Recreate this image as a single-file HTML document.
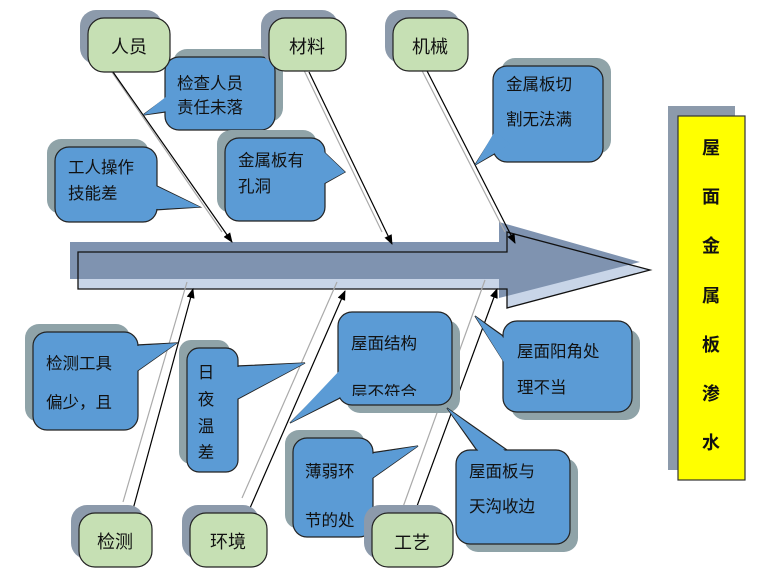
<!DOCTYPE html>
<html><head><meta charset="utf-8"><style>
html,body{margin:0;padding:0;background:#fff;}
svg{display:block;}
text{font-family:"Liberation Sans","Noto Sans CJK SC",sans-serif;fill:#111;}
</style></head><body>
<svg width="760" height="570" viewBox="0 0 760 570" xmlns="http://www.w3.org/2000/svg">
<defs>
<marker id="ah" markerWidth="10" markerHeight="10" refX="9" refY="5" orient="auto" markerUnits="userSpaceOnUse">
<path d="M0,1 L10,5 L0,9 z" fill="#000"/></marker>
<clipPath id="c1"><rect x="338" y="312" width="114" height="84" rx="14"/></clipPath>
</defs>

<polygon points="78,252 507,252 507,232 650,270 507,308 507,289 78,289" fill="#c8d5e8"/>
<polygon points="70,242 499,242 499,222 640,262 499,298 499,279 70,279" fill="#7f93b0"/>
<polygon points="78,252 507,252 507,232 650,270 507,308 507,289 78,289" fill="none" stroke="#111" stroke-width="1.3"/>

<g stroke="#aaa" stroke-width="1.2">
<line x1="105" y1="62" x2="222" y2="232"/>
<line x1="300" y1="62" x2="382" y2="232"/>
<line x1="415" y1="57" x2="505" y2="232"/>
<line x1="123" y1="502" x2="187" y2="282"/>
<line x1="242" y1="498" x2="337" y2="282"/>
<line x1="403" y1="507" x2="485" y2="280"/>
</g>
<g stroke="#000" stroke-width="1.2" marker-end="url(#ah)">
<line x1="113" y1="72" x2="232" y2="242"/>
<line x1="309" y1="72" x2="392" y2="244"/>
<line x1="424" y1="65" x2="515" y2="243"/>
<line x1="132" y1="513" x2="193" y2="289"/>
<line x1="250" y1="508" x2="345" y2="291"/>
<line x1="413" y1="517" x2="497" y2="289"/>
</g>

<g stroke="#222" stroke-width="1.2">
<rect x="173" y="49" width="110" height="73" rx="14" fill="#8fa3a8" stroke="none"/>
<polygon points="170,95 143,115 180,110" fill="#5b9bd5"/>
<rect x="165" y="57" width="110" height="73" rx="14" fill="#5b9bd5"/>
<polygon points="167,96 143,115 180,109" fill="#5b9bd5" stroke="none"/>
<rect x="47" y="139" width="102" height="75" rx="14" fill="#8fa3a8" stroke="none"/>
<polygon points="155,185 200,207 155,210" fill="#5b9bd5"/>
<rect x="55" y="147" width="102" height="75" rx="14" fill="#5b9bd5"/>
<polygon points="156,186 200,207 156,209" fill="#5b9bd5" stroke="none"/>
<rect x="217" y="130" width="100" height="83" rx="14" fill="#8fa3a8" stroke="none"/>
<polygon points="322,150 345,172 322,185" fill="#5b9bd5"/>
<rect x="225" y="138" width="100" height="83" rx="14" fill="#5b9bd5"/>
<polygon points="323,151 345,172 323,184" fill="#5b9bd5" stroke="none"/>
<rect x="501" y="58" width="110" height="96" rx="14" fill="#8fa3a8" stroke="none"/>
<polygon points="497,130 475,165 510,145" fill="#5b9bd5"/>
<rect x="493" y="66" width="110" height="96" rx="14" fill="#5b9bd5"/>
<polygon points="495,131 475,165 510,144" fill="#5b9bd5" stroke="none"/>
<rect x="25" y="324" width="105" height="98" rx="14" fill="#8fa3a8" stroke="none"/>
<polygon points="136,345 177,343 136,372" fill="#5b9bd5"/>
<rect x="33" y="332" width="105" height="98" rx="14" fill="#5b9bd5"/>
<polygon points="137,346 177,343 137,371" fill="#5b9bd5" stroke="none"/>
<rect x="179" y="340" width="51" height="124" rx="12" fill="#8fa3a8" stroke="none"/>
<polygon points="236,366 305,363 236,400" fill="#5b9bd5"/>
<rect x="187" y="348" width="51" height="124" rx="12" fill="#5b9bd5"/>
<polygon points="237,367 305,363 237,399" fill="#5b9bd5" stroke="none"/>
<rect x="346" y="320" width="114" height="93" rx="14" fill="#8fa3a8" stroke="none"/>
<polygon points="345,368 290,423 352,392" fill="#5b9bd5"/>
<rect x="338" y="312" width="114" height="93" rx="14" fill="#5b9bd5"/>
<polygon points="341,369 290,423 352,391" fill="#5b9bd5" stroke="none"/>
<rect x="285" y="430" width="80" height="99" rx="14" fill="#8fa3a8" stroke="none"/>
<polygon points="370,453 418,446 370,480" fill="#5b9bd5"/>
<rect x="293" y="438" width="80" height="99" rx="14" fill="#5b9bd5"/>
<polygon points="371,454 418,446 371,479" fill="#5b9bd5" stroke="none"/>
<rect x="511" y="329" width="129" height="91" rx="14" fill="#8fa3a8" stroke="none"/>
<polygon points="506,338 475,316 506,365" fill="#5b9bd5"/>
<rect x="503" y="321" width="129" height="91" rx="14" fill="#5b9bd5"/>
<polygon points="505,339 475,316 505,364" fill="#5b9bd5" stroke="none"/>
<rect x="464" y="458" width="114" height="94" rx="14" fill="#8fa3a8" stroke="none"/>
<polygon points="478,452 447,408 510,452" fill="#5b9bd5"/>
<rect x="456" y="450" width="114" height="94" rx="14" fill="#5b9bd5"/>
<polygon points="480,453 447,408 508,453" fill="#5b9bd5" stroke="none"/>
</g>

<g stroke="#222" stroke-width="1.2">
<rect x="80" y="10" width="82" height="54" rx="16" fill="#8c9aab" stroke="none"/>
<rect x="88" y="18" width="82" height="54" rx="16" fill="#c6e0b4"/>
<rect x="261" y="10" width="77" height="53" rx="16" fill="#8c9aab" stroke="none"/>
<rect x="269" y="18" width="77" height="53" rx="16" fill="#c6e0b4"/>
<rect x="385" y="10" width="75" height="53" rx="16" fill="#8c9aab" stroke="none"/>
<rect x="393" y="18" width="75" height="53" rx="16" fill="#c6e0b4"/>
<rect x="71" y="505" width="73" height="54" rx="16" fill="#8c9aab" stroke="none"/>
<rect x="79" y="513" width="73" height="54" rx="16" fill="#c6e0b4"/>
<rect x="182" y="505" width="77" height="54" rx="16" fill="#8c9aab" stroke="none"/>
<rect x="190" y="513" width="77" height="54" rx="16" fill="#c6e0b4"/>
<rect x="364" y="505" width="81" height="54" rx="16" fill="#8c9aab" stroke="none"/>
<rect x="372" y="513" width="81" height="54" rx="16" fill="#c6e0b4"/>
</g>

<rect x="668" y="106" width="67" height="364" fill="#8c9aab"/>
<rect x="678" y="116" width="67" height="364" fill="#ffff00" stroke="#333" stroke-width="1.2"/>
<g font-size="18" font-weight="bold" text-anchor="middle">
<text x="711" y="154">屋</text><text x="711" y="203">面</text><text x="711" y="252">金</text>
<text x="711" y="302">属</text><text x="711" y="351">板</text><text x="711" y="400">渗</text>
<text x="711" y="449">水</text>
</g>

<g font-size="18" text-anchor="middle">
<text x="129" y="53">人员</text>
<text x="307" y="53">材料</text>
<text x="430" y="53">机械</text>
<text x="115" y="548">检测</text>
<text x="228" y="548">环境</text>
<text x="412" y="549">工艺</text>
</g>

<g font-size="16.5">
<text x="177" y="89">检查人员</text>
<text x="177" y="113">责任未落</text>
<text x="68" y="173">工人操作</text>
<text x="68" y="199">技能差</text>
<text x="238" y="166">金属板有</text>
<text x="238" y="192">孔洞</text>
<text x="506" y="90">金属板切</text>
<text x="506" y="125">割无法满</text>
<text x="46" y="369">检测工具</text>
<text x="46" y="408">偏少，且</text>
<g text-anchor="middle"><text x="206" y="378">日</text><text x="206" y="405">夜</text><text x="206" y="432">温</text><text x="206" y="458">差</text></g>
<g clip-path="url(#c1)"><text x="351" y="349">屋面结构</text><text x="351" y="398">层不符合</text></g>
<text x="305" y="477">薄弱环</text>
<text x="305" y="526">节的处</text>
<text x="517" y="357">屋面阳角处</text>
<text x="517" y="393">理不当</text>
<text x="469" y="477">屋面板与</text>
<text x="469" y="512">天沟收边</text>
</g>
</svg>
</body></html>
